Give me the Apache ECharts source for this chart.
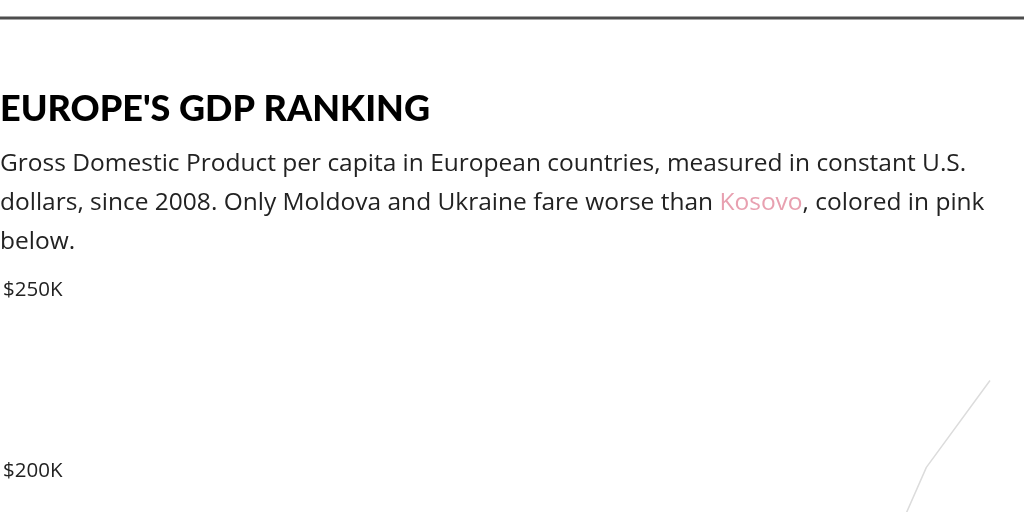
<!DOCTYPE html>
<html>
<head>
<meta charset="utf-8">
<script src="https://cdn.jsdelivr.net/npm/echarts@6/dist/echarts.min.js"></script>
<style>
html,body{margin:0;padding:0;background:#fff;overflow:hidden;}
#chart{width:1024px;height:1300px;}
</style>
</head>
<body>
<div id="chart"></div>
<script>
var years = ['2008','2009','2010','2011','2012','2013','2014','2015','2016','2017','2018','2019','2020','2021','2022'];
var monaco = [172000,155000,157000,165000,160000,170000,175000,168000,172000,180000,185000,182000,161000,201000,225000];
var kosovo = [3200,3300,3400,3600,3650,3750,3850,3950,4100,4250,4400,4600,4400,4900,5100];
var yTicks = [0,50000,100000,150000,200000,250000];

var FONT = '"Open Sans", Lato, sans-serif';
var TFONT = 'Lato, sans-serif';
var FS = 24.5;
var chart = echarts.init(document.getElementById('chart'));
chart.setOption({
  animation:false,
  backgroundColor:'#fff',
  graphic:[
    {type:'rect', shape:{x:0,y:16.5,width:1024,height:3}, style:{fill:'#4d4d4d'}},
    {type:'text', x:0, y:109, style:{text:"EUROPE'S GDP RANKING", font:'900 36px '+TFONT, fill:'#000', textVerticalAlign:'middle'}},
    {type:'text', x:0, y:164, style:{text:'Gross Domestic Product per capita in European countries, measured in constant U.S.', font:FS+'px '+FONT, fill:'#222', textVerticalAlign:'middle'}},
    {type:'text', x:0, y:203, style:{text:'{a|dollars, since 2008. Only Moldova and Ukraine fare worse than }{k|Kosovo}{a|, colored in pink}', font:FS+'px '+FONT, fill:'#222', textVerticalAlign:'middle',
      rich:{a:{fontSize:FS,fontFamily:FONT,fill:'#222'},k:{fontSize:FS,fontFamily:FONT,fill:'#e8a0b0'}}}},
    {type:'text', x:0, y:242, style:{text:'below.', font:FS+'px '+FONT, fill:'#222', textVerticalAlign:'middle'}}
  ],
  grid:{left:94,right:34,top:290,height:905},
  xAxis:{type:'category',data:years,boundaryGap:false,axisLine:{show:false},axisTick:{show:false},axisLabel:{show:false},splitLine:{show:false}},
  yAxis:{type:'value',min:0,max:250000,interval:50000,
    axisLine:{show:false},axisTick:{show:false},splitLine:{show:false},
    axisLabel:{align:'left',margin:96,fontFamily:FONT,fontSize:20.5,color:'#222',
      formatter:function(v){return v===0?'$0':'$'+(v/1000)+'K';}}},
  series:[
    {name:'Kosovo',type:'line',data:kosovo,symbol:'none',lineStyle:{color:'#e8a0b0',width:2},z:3},
    {name:'Monaco',type:'line',data:monaco,symbol:'none',lineStyle:{color:'#dcdcdc',width:1.5},z:2}
  ]
});
</script>
</body>
</html>
